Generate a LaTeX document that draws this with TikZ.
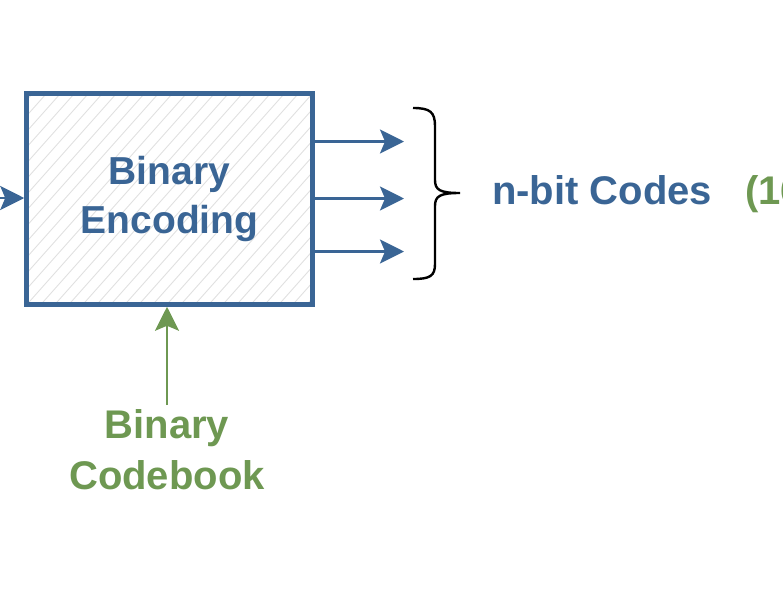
\documentclass[tikz,border=0pt]{standalone}
\usepackage{fontspec}
\setmainfont{Liberation Sans}
\usetikzlibrary{arrows.meta}
\definecolor{encblue}{HTML}{3A6595}
\definecolor{cbgreen}{HTML}{6E9852}
\definecolor{hatchgray}{HTML}{E0E0E0}
\tikzset{
  bluearrow/.style={draw=encblue, line width=2.8pt, -{Stealth[length=24pt,width=24pt,inset=5pt]}},
  greenarrow/.style={draw=cbgreen, line width=2.5pt, -{Stealth[length=24pt,width=24pt,inset=5pt]}},
  hatchline/.style={draw=hatchgray, line width=0.9pt},
  encbox/.style={draw=encblue, line width=4.5pt, minimum width=286pt, minimum height=211pt,
    inner sep=0pt, align=center, text=encblue, font=\fontsize{39}{49}\selectfont\bfseries},
  bluelabel/.style={text=encblue, inner sep=0pt, font=\fontsize{40}{49}\selectfont\bfseries},
  greenlabel/.style={text=cbgreen, inner sep=0pt, align=center, font=\fontsize{40}{51}\selectfont\bfseries},
  bracestyle/.style={draw=black, line width=2.4pt}
}
\begin{document}
\begin{tikzpicture}[x=1pt,y=-1pt]
\useasboundingbox (0,0) rectangle (783,600);
% hatching of the encoder box
\begin{scope}
  \clip (26.5,93.5) rectangle (312.5,304.5);
  \foreach \i in {-230,-216,...,330} \draw[hatchline] (\i,310) -- ++(200,-225);
\end{scope}
% encoder box
\node[encbox] (enc) at (169.5,199) {Binary\\Encoding};
% input arrow
\coordinate (in) at (0,198);
\draw[bluearrow] (in) -- (in -| enc.west);
% output arrows
\coordinate (o1) at (404,141.5);
\coordinate (o2) at (404,198.5);
\coordinate (o3) at (404,251.5);
\draw[bluearrow] (o1 -| enc.east) -- (o1);
\draw[bluearrow] (o2 -| enc.east) -- (o2);
\draw[bluearrow] (o3 -| enc.east) -- (o3);
% brace
\draw[bracestyle] (413,108) .. controls (430,108) and (435,112) .. (435,126)
  -- (435,180) .. controls (435,190) and (440,193) .. (460,193)
  .. controls (440,193) and (435,196) .. (435,206)
  -- (435,264) .. controls (435,276) and (430,279) .. (413,279);
% labels
\node[bluelabel, anchor=base west] (codes) at (492,204) {n-bit Codes};
\node[greenlabel, anchor=base west] (bits) at (745,204) {(16};
% codebook
\node[greenlabel, anchor=north, outer sep=5pt] (cb) at (167,405) {Binary\\Codebook};
\draw[greenarrow] (cb.north) -- (cb.north |- enc.south);
\end{tikzpicture}
\end{document}
